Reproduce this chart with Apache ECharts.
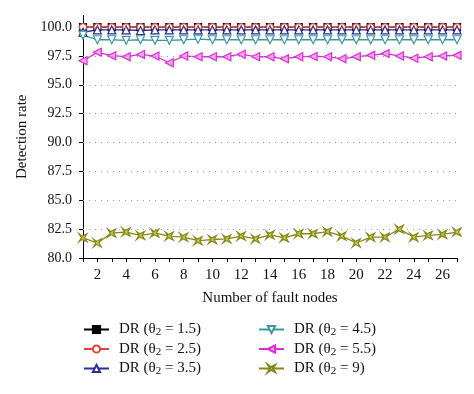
<!DOCTYPE html>
<html>
<head>
<meta charset="utf-8">
<script src="https://cdn.jsdelivr.net/npm/echarts@6/dist/echarts.min.js"></script>
<style>html,body{margin:0;padding:0;background:#fff;}#c{width:474px;height:394px;}</style>
</head>
<body>
<div id="c"></div>
<script>
var xValues = [1,2,3,4,5,6,7,8,9,10,11,12,13,14,15,16,17,18,19,20,21,22,23,24,25,26,27];
var yTicks = [80, 82.5, 85, 87.5, 90, 92.5, 95, 97.5, 100];
var dr15 = [100,100,100,100,100,100,100,100,100,100,100,100,100,100,100,100,100,100,100,100,100,100,100,100,100,100,100];
var dr25 = [100,100,100,100,100,100,100,100,100,100,100,100,100,100,100,100,100,100,100,100,100,100,100,100,100,100,100];
var dr35 = [99.55,99.75,99.75,99.75,99.7,99.75,99.75,99.75,99.75,99.75,99.75,99.75,99.75,99.75,99.75,99.75,99.75,99.75,99.75,99.75,99.75,99.75,99.75,99.75,99.75,99.75,99.75];
var dr45 = [99.3,98.9,98.9,98.85,98.9,98.85,98.85,98.9,98.95,98.9,98.9,98.9,98.9,98.9,98.9,98.9,98.9,98.9,98.9,98.9,98.9,98.9,98.9,98.9,98.9,98.9,98.9];
var dr55 = [97.08,97.81,97.52,97.43,97.63,97.49,96.91,97.49,97.43,97.43,97.43,97.65,97.43,97.43,97.25,97.43,97.45,97.43,97.25,97.43,97.55,97.7,97.5,97.3,97.43,97.5,97.55];
var dr9 = [81.75,81.3,82.16,82.25,81.96,82.16,81.9,81.8,81.5,81.6,81.65,81.9,81.65,82.0,81.75,82.1,82.1,82.28,81.9,81.3,81.8,81.8,82.5,81.8,81.96,82.05,82.25];
var seriesNames = ['DR (θ2 = 1.5)','DR (θ2 = 2.5)','DR (θ2 = 3.5)','DR (θ2 = 4.5)','DR (θ2 = 5.5)','DR (θ2 = 9)'];

function pairs(arr){ return arr.map(function(v,i){ return [xValues[i], v]; }); }

var font = 'Liberation Serif';
var chart = echarts.init(document.getElementById('c'), null, {renderer:'canvas'});

function mk(name, data, color, fill, symbol, size, rotate, extra){
  var s = {
    name: name, type: 'line', data: pairs(data),
    symbol: symbol, symbolSize: size, symbolRotate: rotate || 0,
    lineStyle: {color: color, width: 1.3},
    itemStyle: {color: fill, borderColor: color, borderWidth: 1.2},
    emphasis: {disabled: true},
    animation: false
  };
  if (extra) for (var k in extra) s[k] = extra[k];
  return s;
}

function legendFmt(n){
  var m = n.match(/^DR \(θ2 = (.*)\)$/);
  return 'DR (θ{s|2} = ' + m[1] + ')';
}
function legendText(){
  return {
    fontFamily: font, fontSize: 15, color: '#111', lineHeight: 17, padding: [0,0,0,5],
    rich: {s: {fontFamily: font, fontSize: 11, lineHeight: 17, verticalAlign: 'bottom', padding: [6,0,0,0], color:'#111'}}
  };
}

var option = {
  backgroundColor: '#fff',
  animation: false,
  grid: {left: 83, right: 17, top: 15.5, bottom: 136},
  xAxis: {
    type: 'value', min: 1, max: 27, interval: 1,
    name: 'Number of fault nodes', nameLocation: 'middle', nameGap: 33,
    nameTextStyle: {fontFamily: font, fontSize: 15, color: '#111'},
    axisLine: {lineStyle: {color: '#000', width: 1}},
    axisTick: {show: true, length: 4, lineStyle: {color: '#000'}},
    axisLabel: {fontFamily: font, fontSize: 15, color: '#111', margin: 10,
      formatter: function(v){ return v % 2 === 0 ? String(v) : ''; }},
    splitLine: {show: false}
  },
  yAxis: {
    type: 'value', min: 80, max: 101,
    name: 'Detection rate', nameLocation: 'middle', nameGap: 44,
    nameTextStyle: {fontFamily: font, fontSize: 15, color: '#111'},
    axisLine: {show: true, lineStyle: {color: '#000', width: 1}},
    axisTick: {show: true, length: 4, customValues: yTicks, lineStyle: {color: '#000'}},
    axisLabel: {fontFamily: font, fontSize: 14, color: '#111', margin: 11, customValues: yTicks,
      formatter: function(v){ return v.toFixed(1); }},
    splitLine: {show: false}
  },
  legend: [
    {data: seriesNames.slice(0,3), orient: 'vertical', left: 83, top: 321, height: 70, padding: 0,
     itemWidth: 25, itemHeight: 9, itemGap: 2.5,
     textStyle: legendText(), formatter: legendFmt, selectedMode: false},
    {data: seriesNames.slice(3,6), orient: 'vertical', left: 258, top: 321, height: 70, padding: 0,
     itemWidth: 25, itemHeight: 9, itemGap: 2.5,
     textStyle: legendText(), formatter: legendFmt, selectedMode: false}
  ],
  series: [
    mk(seriesNames[0], dr15, '#000000', '#000000', 'rect', 7, 0, {
      markLine: {silent: true, symbol: 'none', label: {show: false},
        lineStyle: {color: '#9a9a9a', type: [1,5], width: 1},
        data: yTicks.slice(1).map(function(v){ return {yAxis: v}; })}
    }),
    mk(seriesNames[1], dr25, '#e0443a', '#ffffff', 'circle', 7),
    mk(seriesNames[2], dr35, '#2b2b9e', '#ffffff', 'triangle', 8),
    mk(seriesNames[3], dr45, '#3a9a9a', '#ffffff', 'triangle', 8, 180),
    mk(seriesNames[4], dr55, '#e02ad8', '#f4a6ee', 'triangle', 8, 90),
    mk(seriesNames[5], dr9, '#86861c', '#c9c93a', 'path://M0,0L4,3L10,0L7,5L10,10L4,7L0,10L3,5Z', 8)
  ]
};
chart.setOption(option);
</script>
</body>
</html>
